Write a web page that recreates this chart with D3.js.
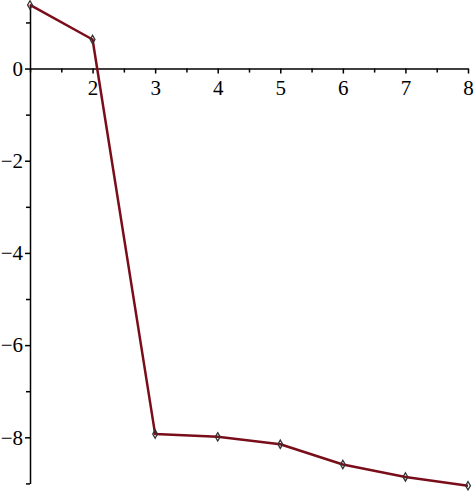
<!DOCTYPE html>
<html>
<head>
<meta charset="utf-8">
<script src="https://cdn.jsdelivr.net/npm/d3@7"></script>
<style>
  body { margin: 0; background: #fff; }
  .domain, .tick line { stroke: #000; stroke-width: 1.5; }
</style>
</head>
<body>
<div id="chart"></div>
<script>
const W = 474, H = 491;

// data
const xs = [1, 2, 3, 4, 5, 6, 7, 8];
const ys = [1.38, 0.63, -7.93, -7.99, -8.15, -8.59, -8.86, -9.05];

const xMajor = [2, 3, 4, 5, 6, 7, 8];
const xMinor = [1, 1.5, 2.5, 3.5, 4.5, 5.5, 6.5, 7.5];
const yMajor = [-8, -6, -4, -2, 0];
const yMinor = [-9, -7, -5, -3, -1, 1];

const x = d3.scaleLinear().domain([1, 8]).range([30, 468]);
const y = d3.scaleLinear().domain([-9, 1.4]).range([483.4, 4]);

const svg = d3.select("#chart").append("svg")
    .attr("width", W)
    .attr("height", H);

const fmt = d => d < 0 ? "\u2212" + Math.abs(d) : String(d);

// y axis
svg.append("g")
    .attr("transform", `translate(${x(1)},0)`)
    .call(d3.axisLeft(y).tickValues(yMajor).tickSize(5).tickPadding(2).tickFormat(fmt).tickSizeOuter(0));

svg.append("g")
    .attr("transform", `translate(${x(1)},0)`)
    .call(d3.axisLeft(y).tickValues(yMinor).tickSize(4).tickFormat("").tickSizeOuter(0))
    .select(".domain").remove();

// x axis along y = 0
svg.append("g")
    .attr("transform", `translate(0,${y(0)})`)
    .call(d3.axisBottom(x).tickValues(xMajor).tickSize(5).tickPadding(7).tickFormat(fmt).tickSizeOuter(0));

svg.append("g")
    .attr("transform", `translate(0,${y(0)})`)
    .call(d3.axisBottom(x).tickValues(xMinor).tickSize(4).tickFormat("").tickSizeOuter(0))
    .select(".domain").remove();

svg.selectAll("g")
    .attr("font-family", "'Liberation Serif', 'Times New Roman', serif")
    .attr("font-size", 21);
svg.selectAll(".tick text").attr("fill", "#000");

// line
const line = d3.line()
    .x((d, i) => x(xs[i]))
    .y(d => y(d));

svg.append("path")
    .datum(ys)
    .attr("d", line)
    .attr("fill", "none")
    .attr("stroke", "#7a0d1a")
    .attr("stroke-width", 2.5)
    .attr("stroke-linejoin", "round");

// diamond markers
svg.append("g")
    .selectAll("path")
    .data(ys)
    .enter()
    .append("path")
    .attr("transform", (d, i) => `translate(${x(xs[i])},${y(d)})`)
    .attr("d", d3.symbol().type(d3.symbolDiamond).size(20))
    .attr("fill", "none")
    .attr("stroke", "#333")
    .attr("stroke-width", 1.3);
</script>
</body>
</html>
